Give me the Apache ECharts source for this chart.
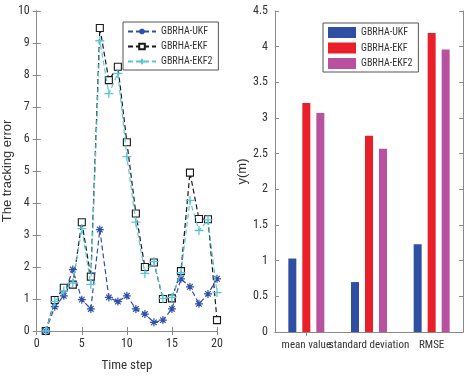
<!DOCTYPE html>
<html>
<head>
<meta charset="utf-8">
<script src="https://cdn.jsdelivr.net/npm/echarts@6/dist/echarts.min.js"></script>
<style>
  html, body { margin: 0; padding: 0; background: #fff; }
  #chart { width: 474px; height: 377px; }
</style>
</head>
<body>
<div id="chart"></div>
<script>
// left plot: tracking error per time step
var timeSteps = [1, 2, 3, 4, 5, 6, 7, 8, 9, 10, 11, 12, 13, 14, 15, 16, 17, 18, 19, 20];
var ukfErr  = [0, 0.76, 1.1, 1.92, 0.98, 0.69, 3.17, 1.05, 0.92, 1.1, 0.69, 0.53, 0.27, 0.34, 0.69, 1.63, 1.38, 0.85, 1.16, 1.63];
var ekfErr  = [0, 0.97, 1.35, 1.45, 3.4, 1.7, 9.47, 7.84, 8.26, 5.9, 3.67, 2.0, 2.14, 1.0, 1.02, 1.87, 4.95, 3.5, 3.49, 0.34];
var ekf2Err = [0, 0.92, 1.25, 1.5, 3.2, 1.46, 9.07, 7.42, 8.05, 5.45, 3.4, 1.8, 2.17, 1.02, 1.05, 1.82, 4.08, 3.14, 3.47, 1.2];

// right plot: statistics
var statNames = ['mean value', 'standard deviation', 'RMSE'];
var ukfStats  = [1.03, 0.70, 1.23];
var ekfStats  = [3.21, 2.75, 4.19];
var ekf2Stats = [3.07, 2.57, 3.96];

var seriesNames = ['GBRHA-UKF', 'GBRHA-EKF', 'GBRHA-EKF2'];

var font = "'Roboto Condensed', 'Liberation Sans', Arial, sans-serif";
var nameFont = "'Liberation Sans', Arial, sans-serif";
var axisGray = '#8a8a8a';
var textColor = '#333';

const zip = (xs, ys) => xs.map((x, i) => [x, ys[i]]);

const asterisk = 'path://M5,0L5,10M0,5L10,5M1.5,1.5L8.5,8.5M8.5,1.5L1.5,8.5';
const plus = 'path://M5,0L5,10M0,5L10,5';

const baseAxis = (gridIndex, extra) => Object.assign({
  gridIndex: gridIndex,
  axisLine: { show: true, lineStyle: { color: axisGray, width: 1 } },
  axisTick: { show: true, inside: true, length: 4, lineStyle: { color: axisGray } },
  splitLine: { show: false },
  axisLabel: { color: textColor, fontFamily: font, fontSize: 12, margin: 7 },
  nameTextStyle: { color: textColor, fontFamily: nameFont, fontSize: 13 }
}, extra);

var chart = echarts.init(document.getElementById('chart'));

var option = {
  backgroundColor: '#fff',
  animation: false,
  grid: [
    { left: 28, top: 11, width: 189, height: 322 },
    { left: 275, top: 11, width: 188, height: 321 }
  ],
  legend: [
    {
      orient: 'vertical',
      left: 123, top: 22,
      itemWidth: 28, itemHeight: 7, itemGap: 4,
      padding: [4, 6, 3, 4],
      borderColor: '#555', borderWidth: 1,
      backgroundColor: '#fff',
      textStyle: { color: textColor, fontFamily: font, fontSize: 10, lineHeight: 11 },
      data: seriesNames.map(n => ({ name: n }))
    },
    {
      orient: 'vertical',
      left: 323, top: 23,
      itemWidth: 28, itemHeight: 11, itemGap: 4.5,
      padding: [4, 6, 3, 5],
      borderColor: '#555', borderWidth: 1,
      backgroundColor: '#fff',
      textStyle: { color: textColor, fontFamily: font, fontSize: 10 },
      data: [
        { name: 'GBRHA-UKF', icon: 'rect', itemStyle: { color: '#2f4fa3', borderWidth: 0 } },
        { name: 'GBRHA-EKF', icon: 'rect', itemStyle: { color: '#e91f2a', borderWidth: 0 } },
        { name: 'GBRHA-EKF2', icon: 'rect', itemStyle: { color: '#b8519f', borderWidth: 0 } }
      ]
    }
  ],
  xAxis: [
    baseAxis(0, {
      type: 'value', min: 0, max: 20, interval: 5,
      name: 'Time step', nameLocation: 'middle', nameGap: 28,
      nameTextStyle: { color: textColor, fontFamily: font, fontSize: 13 }
    }),
    baseAxis(0, {
      type: 'value', min: 0, max: 20, interval: 5, position: 'top',
      axisLabel: { show: false }
    }),
    baseAxis(1, {
      type: 'category', data: statNames,
      axisTick: { show: true, inside: true, length: 4, alignWithLabel: true, lineStyle: { color: axisGray } },
      axisLabel: { color: textColor, fontFamily: font, fontSize: 11, margin: 8, interval: 0 }
    }),
    baseAxis(1, {
      type: 'category', data: statNames, position: 'top',
      axisTick: { show: true, inside: true, length: 4, alignWithLabel: true, lineStyle: { color: axisGray } },
      axisLabel: { show: false }
    })
  ],
  yAxis: [
    baseAxis(0, {
      type: 'value', min: 0, max: 10, interval: 1,
      name: 'The tracking error', nameLocation: 'middle', nameGap: 15
    }),
    baseAxis(0, {
      type: 'value', min: 0, max: 10, interval: 1, position: 'right',
      axisLabel: { show: false }
    }),
    baseAxis(1, {
      type: 'value', min: 0, max: 4.5, interval: 0.5,
      name: 'y(m)', nameLocation: 'middle', nameGap: 14
    }),
    baseAxis(1, {
      type: 'value', min: 0, max: 4.5, interval: 0.5, position: 'right',
      axisLabel: { show: false }
    })
  ],
  series: [
    {
      name: 'GBRHA-UKF', type: 'line', xAxisIndex: 0, yAxisIndex: 0,
      data: zip(timeSteps, ukfErr),
      symbol: asterisk, symbolSize: 8, showAllSymbol: true,
      lineStyle: { color: '#2f4fa8', width: 1.2, type: [5, 3] },
      itemStyle: { color: 'none', borderColor: '#2f4fa8', borderWidth: 1.2 },
      z: 4
    },
    {
      name: 'GBRHA-EKF', type: 'line', xAxisIndex: 0, yAxisIndex: 0,
      data: zip(timeSteps, ekfErr),
      symbol: 'rect', symbolSize: 7, showAllSymbol: true,
      lineStyle: { color: '#1a1a1a', width: 1.2, type: [5, 3] },
      itemStyle: { color: '#fff', borderColor: '#1a1a1a', borderWidth: 1.1 },
      z: 3
    },
    {
      name: 'GBRHA-EKF2', type: 'line', xAxisIndex: 0, yAxisIndex: 0,
      data: zip(timeSteps, ekf2Err),
      symbol: plus, symbolSize: 9, showAllSymbol: true,
      lineStyle: { color: '#5cc6d6', width: 1.2, type: [5, 3] },
      itemStyle: { color: 'none', borderColor: '#5cc6d6', borderWidth: 1.3 },
      z: 5
    },
    {
      name: 'GBRHA-UKF', type: 'bar', xAxisIndex: 2, yAxisIndex: 2,
      data: ukfStats, barWidth: 8, barGap: '75%',
      itemStyle: { color: '#2f4fa3' }
    },
    {
      name: 'GBRHA-EKF', type: 'bar', xAxisIndex: 2, yAxisIndex: 2,
      data: ekfStats, barWidth: 8, barGap: '75%',
      itemStyle: { color: '#e91f2a' }
    },
    {
      name: 'GBRHA-EKF2', type: 'bar', xAxisIndex: 2, yAxisIndex: 2,
      data: ekf2Stats, barWidth: 8, barGap: '75%',
      itemStyle: { color: '#b8519f' }
    }
  ]
};

chart.setOption(option);
</script>
</body>
</html>
